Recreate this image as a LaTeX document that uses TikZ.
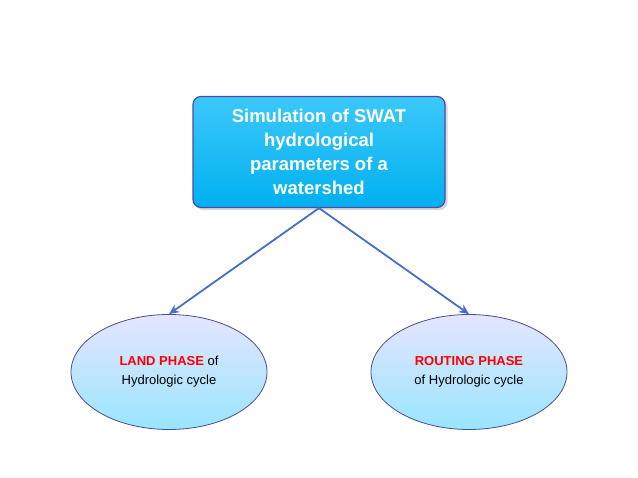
\documentclass[tikz,border=0pt]{standalone}
\usepackage{fontspec}
\setmainfont{Liberation Sans}
\usetikzlibrary{shapes.geometric,arrows.meta,shadows}
\definecolor{cyanA}{RGB}{60,200,250}
\definecolor{cyanB}{RGB}{0,176,240}
\definecolor{linkc}{RGB}{70,110,200}
\begin{document}
\begin{tikzpicture}[x=1pt,y=-1pt,
  topbox/.style={draw=blue!50!black!70, line width=1.2pt, rounded corners=8pt, top color=cyanA, bottom color=cyanB, minimum width=252pt, minimum height=111pt, align=center, text=white, font=\bfseries\fontsize{18.5}{24}\selectfont, drop shadow={opacity=0.3}},
  phase/.style={ellipse, draw=blue!40!black!70, line width=0.8pt, top color=blue!10!white, bottom color=blue!25!cyan!40, minimum width=196pt, minimum height=115pt, align=center, font=\fontsize{13}{19}\selectfont},
  link/.style={draw=linkc, line width=1.8pt, -{Stealth[length=10pt,width=9pt]}}]
\useasboundingbox (0,0) rectangle (638,478);
\node[topbox] (top) at (319,152) {Simulation of SWAT\\hydrological\\parameters of a\\watershed};
\node[phase] (land) at (169,372) {\textcolor{red}{\bfseries LAND PHASE} of\\Hydrologic cycle};
\node[phase] (route) at (469,372) {\textcolor{red}{\bfseries ROUTING PHASE}\\of Hydrologic cycle};
\draw[link] (top.south) -- (land.north);
\draw[link] (top.south) -- (route.north);
\end{tikzpicture}
\end{document}
